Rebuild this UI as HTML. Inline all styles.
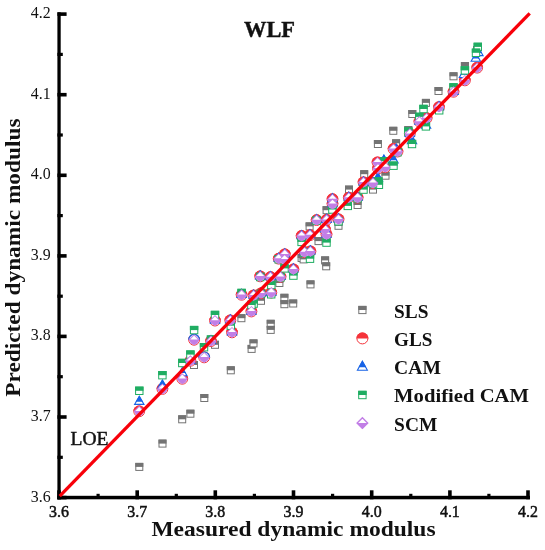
<!DOCTYPE html>
<html lang="en"><head><meta charset="utf-8"><title>WLF</title>
<style>
html,body{margin:0;padding:0;background:#fff}
svg{display:block}
text{font-family:"Liberation Serif",serif;fill:#111}
.yt{font-size:15.9px}
.xt{font-size:15.9px;stroke:#111;stroke-width:.5px}
.lg{font-size:19.6px;font-weight:bold}
.lo{font-size:19.8px;stroke:#111;stroke-width:.45px}
.al{font-size:22px;font-weight:bold}
.tt{font-size:23.4px;font-weight:bold;stroke:#111;stroke-width:.4px}
</style></head><body>
<svg width="545" height="550" viewBox="0 0 545 550">
<rect width="545" height="550" fill="#fff"/>
<g id="sls"><rect x="135.8" y="463.4" width="7" height="7" fill="#fff" stroke="#737373" stroke-width="1"/><rect x="135.3" y="462.9" width="8" height="4" fill="#737373"/><rect x="159" y="440.1" width="7" height="7" fill="#fff" stroke="#737373" stroke-width="1"/><rect x="158.5" y="439.6" width="8" height="4" fill="#737373"/><rect x="178.7" y="415.8" width="7" height="7" fill="#fff" stroke="#737373" stroke-width="1"/><rect x="178.2" y="415.3" width="8" height="4" fill="#737373"/><rect x="186.9" y="410.2" width="7" height="7" fill="#fff" stroke="#737373" stroke-width="1"/><rect x="186.4" y="409.7" width="8" height="4" fill="#737373"/><rect x="200.8" y="394.5" width="7" height="7" fill="#fff" stroke="#737373" stroke-width="1"/><rect x="200.3" y="394" width="8" height="4" fill="#737373"/><rect x="227.3" y="366.8" width="7" height="7" fill="#fff" stroke="#737373" stroke-width="1"/><rect x="226.8" y="366.3" width="8" height="4" fill="#737373"/><rect x="248.1" y="345.4" width="7" height="7" fill="#fff" stroke="#737373" stroke-width="1"/><rect x="247.6" y="344.9" width="8" height="4" fill="#737373"/><rect x="250" y="339.9" width="7" height="7" fill="#fff" stroke="#737373" stroke-width="1"/><rect x="249.5" y="339.4" width="8" height="4" fill="#737373"/><rect x="267.2" y="320.3" width="7" height="7" fill="#fff" stroke="#737373" stroke-width="1"/><rect x="266.7" y="319.8" width="8" height="4" fill="#737373"/><rect x="267.2" y="326.4" width="7" height="7" fill="#fff" stroke="#737373" stroke-width="1"/><rect x="266.7" y="325.9" width="8" height="4" fill="#737373"/><rect x="280.9" y="294.3" width="7" height="7" fill="#fff" stroke="#737373" stroke-width="1"/><rect x="280.4" y="293.8" width="8" height="4" fill="#737373"/><rect x="280.9" y="300.7" width="7" height="7" fill="#fff" stroke="#737373" stroke-width="1"/><rect x="280.4" y="300.2" width="8" height="4" fill="#737373"/><rect x="289.7" y="300" width="7" height="7" fill="#fff" stroke="#737373" stroke-width="1"/><rect x="289.2" y="299.5" width="8" height="4" fill="#737373"/><rect x="307" y="280.9" width="7" height="7" fill="#fff" stroke="#737373" stroke-width="1"/><rect x="306.5" y="280.4" width="8" height="4" fill="#737373"/><rect x="321.6" y="256.9" width="7" height="7" fill="#fff" stroke="#737373" stroke-width="1"/><rect x="321.1" y="256.4" width="8" height="4" fill="#737373"/><rect x="322.7" y="262.8" width="7" height="7" fill="#fff" stroke="#737373" stroke-width="1"/><rect x="322.2" y="262.3" width="8" height="4" fill="#737373"/><rect x="190.5" y="361.5" width="7" height="7" fill="#fff" stroke="#737373" stroke-width="1"/><rect x="190" y="361" width="8" height="4" fill="#737373"/><rect x="211.5" y="341.3" width="7" height="7" fill="#fff" stroke="#737373" stroke-width="1"/><rect x="211" y="340.8" width="8" height="4" fill="#737373"/><rect x="237.9" y="314.7" width="7" height="7" fill="#fff" stroke="#737373" stroke-width="1"/><rect x="237.4" y="314.2" width="8" height="4" fill="#737373"/><rect x="257.5" y="297.3" width="7" height="7" fill="#fff" stroke="#737373" stroke-width="1"/><rect x="257" y="296.8" width="8" height="4" fill="#737373"/><rect x="275.9" y="279.5" width="7" height="7" fill="#fff" stroke="#737373" stroke-width="1"/><rect x="275.4" y="279" width="8" height="4" fill="#737373"/><rect x="298.1" y="254.5" width="7" height="7" fill="#fff" stroke="#737373" stroke-width="1"/><rect x="297.6" y="254" width="8" height="4" fill="#737373"/><rect x="300.1" y="255.9" width="7" height="7" fill="#fff" stroke="#737373" stroke-width="1"/><rect x="299.6" y="255.4" width="8" height="4" fill="#737373"/><rect x="306.1" y="222.9" width="7" height="7" fill="#fff" stroke="#737373" stroke-width="1"/><rect x="305.6" y="222.4" width="8" height="4" fill="#737373"/><rect x="315" y="237.6" width="7" height="7" fill="#fff" stroke="#737373" stroke-width="1"/><rect x="314.5" y="237.1" width="8" height="4" fill="#737373"/><rect x="323.1" y="206.7" width="7" height="7" fill="#fff" stroke="#737373" stroke-width="1"/><rect x="322.6" y="206.2" width="8" height="4" fill="#737373"/><rect x="335" y="222.3" width="7" height="7" fill="#fff" stroke="#737373" stroke-width="1"/><rect x="334.5" y="221.8" width="8" height="4" fill="#737373"/><rect x="345.5" y="186.1" width="7" height="7" fill="#fff" stroke="#737373" stroke-width="1"/><rect x="345" y="185.6" width="8" height="4" fill="#737373"/><rect x="354.1" y="201.5" width="7" height="7" fill="#fff" stroke="#737373" stroke-width="1"/><rect x="353.6" y="201" width="8" height="4" fill="#737373"/><rect x="360.7" y="170.7" width="7" height="7" fill="#fff" stroke="#737373" stroke-width="1"/><rect x="360.2" y="170.2" width="8" height="4" fill="#737373"/><rect x="369.5" y="186.1" width="7" height="7" fill="#fff" stroke="#737373" stroke-width="1"/><rect x="369" y="185.6" width="8" height="4" fill="#737373"/><rect x="374.4" y="140.5" width="7" height="7" fill="#fff" stroke="#737373" stroke-width="1"/><rect x="373.9" y="140" width="8" height="4" fill="#737373"/><rect x="382" y="172.2" width="7" height="7" fill="#fff" stroke="#737373" stroke-width="1"/><rect x="381.5" y="171.7" width="8" height="4" fill="#737373"/><rect x="389.8" y="127.3" width="7" height="7" fill="#fff" stroke="#737373" stroke-width="1"/><rect x="389.3" y="126.8" width="8" height="4" fill="#737373"/><rect x="392.6" y="139.8" width="7" height="7" fill="#fff" stroke="#737373" stroke-width="1"/><rect x="392.1" y="139.3" width="8" height="4" fill="#737373"/><rect x="404.8" y="126.6" width="7" height="7" fill="#fff" stroke="#737373" stroke-width="1"/><rect x="404.3" y="126.1" width="8" height="4" fill="#737373"/><rect x="408.8" y="110.5" width="7" height="7" fill="#fff" stroke="#737373" stroke-width="1"/><rect x="408.3" y="110" width="8" height="4" fill="#737373"/><rect x="422.4" y="99.4" width="7" height="7" fill="#fff" stroke="#737373" stroke-width="1"/><rect x="421.9" y="98.9" width="8" height="4" fill="#737373"/><rect x="435" y="87.5" width="7" height="7" fill="#fff" stroke="#737373" stroke-width="1"/><rect x="434.5" y="87" width="8" height="4" fill="#737373"/><rect x="450" y="72.8" width="7" height="7" fill="#fff" stroke="#737373" stroke-width="1"/><rect x="449.5" y="72.3" width="8" height="4" fill="#737373"/><rect x="461.4" y="62.5" width="7" height="7" fill="#fff" stroke="#737373" stroke-width="1"/><rect x="460.9" y="62" width="8" height="4" fill="#737373"/><rect x="473.5" y="46.5" width="7" height="7" fill="#fff" stroke="#737373" stroke-width="1"/><rect x="473" y="46" width="8" height="4" fill="#737373"/></g>
<g id="gls"><circle cx="139.2" cy="411.3" r="5.4" fill="#fff" stroke="#f5333a" stroke-width="1"/><path d="M133.3 411.3A5.9 5.9 0 0 1 145.1 411.3Z" fill="#f5333a"/><circle cx="162.4" cy="389" r="5.4" fill="#fff" stroke="#f5333a" stroke-width="1"/><path d="M156.5 389A5.9 5.9 0 0 1 168.3 389Z" fill="#f5333a"/><circle cx="182.3" cy="378.8" r="5.4" fill="#fff" stroke="#f5333a" stroke-width="1"/><path d="M176.4 378.8A5.9 5.9 0 0 1 188.2 378.8Z" fill="#f5333a"/><circle cx="190.4" cy="360.8" r="5.4" fill="#fff" stroke="#f5333a" stroke-width="1"/><path d="M184.5 360.8A5.9 5.9 0 0 1 196.3 360.8Z" fill="#f5333a"/><circle cx="194.1" cy="339.8" r="5.4" fill="#fff" stroke="#f5333a" stroke-width="1"/><path d="M188.2 339.8A5.9 5.9 0 0 1 200 339.8Z" fill="#f5333a"/><circle cx="204.2" cy="357.4" r="5.4" fill="#fff" stroke="#f5333a" stroke-width="1"/><path d="M198.3 357.4A5.9 5.9 0 0 1 210.1 357.4Z" fill="#f5333a"/><circle cx="211" cy="341.1" r="5.4" fill="#fff" stroke="#f5333a" stroke-width="1"/><path d="M205.1 341.1A5.9 5.9 0 0 1 216.9 341.1Z" fill="#f5333a"/><circle cx="215" cy="320.6" r="5.4" fill="#fff" stroke="#f5333a" stroke-width="1"/><path d="M209.1 320.6A5.9 5.9 0 0 1 220.9 320.6Z" fill="#f5333a"/><circle cx="230.3" cy="320.4" r="5.4" fill="#fff" stroke="#f5333a" stroke-width="1"/><path d="M224.4 320.4A5.9 5.9 0 0 1 236.2 320.4Z" fill="#f5333a"/><circle cx="232" cy="332.4" r="5.4" fill="#fff" stroke="#f5333a" stroke-width="1"/><path d="M226.1 332.4A5.9 5.9 0 0 1 237.9 332.4Z" fill="#f5333a"/><circle cx="241.6" cy="294.8" r="5.4" fill="#fff" stroke="#f5333a" stroke-width="1"/><path d="M235.7 294.8A5.9 5.9 0 0 1 247.5 294.8Z" fill="#f5333a"/><circle cx="251.4" cy="311.5" r="5.4" fill="#fff" stroke="#f5333a" stroke-width="1"/><path d="M245.5 311.5A5.9 5.9 0 0 1 257.3 311.5Z" fill="#f5333a"/><circle cx="253.6" cy="295.5" r="5.4" fill="#fff" stroke="#f5333a" stroke-width="1"/><path d="M247.7 295.5A5.9 5.9 0 0 1 259.5 295.5Z" fill="#f5333a"/><circle cx="261" cy="293.3" r="5.4" fill="#fff" stroke="#f5333a" stroke-width="1"/><path d="M255.1 293.3A5.9 5.9 0 0 1 266.9 293.3Z" fill="#f5333a"/><circle cx="260.2" cy="276.4" r="5.4" fill="#fff" stroke="#f5333a" stroke-width="1"/><path d="M254.3 276.4A5.9 5.9 0 0 1 266.1 276.4Z" fill="#f5333a"/><circle cx="271.3" cy="292.6" r="5.4" fill="#fff" stroke="#f5333a" stroke-width="1"/><path d="M265.4 292.6A5.9 5.9 0 0 1 277.2 292.6Z" fill="#f5333a"/><circle cx="270.5" cy="277.1" r="5.4" fill="#fff" stroke="#f5333a" stroke-width="1"/><path d="M264.6 277.1A5.9 5.9 0 0 1 276.4 277.1Z" fill="#f5333a"/><circle cx="280.5" cy="276.8" r="5.4" fill="#fff" stroke="#f5333a" stroke-width="1"/><path d="M274.6 276.8A5.9 5.9 0 0 1 286.4 276.8Z" fill="#f5333a"/><circle cx="278.7" cy="258.7" r="5.4" fill="#fff" stroke="#f5333a" stroke-width="1"/><path d="M272.8 258.7A5.9 5.9 0 0 1 284.6 258.7Z" fill="#f5333a"/><circle cx="284.8" cy="254.3" r="5.4" fill="#fff" stroke="#f5333a" stroke-width="1"/><path d="M278.9 254.3A5.9 5.9 0 0 1 290.7 254.3Z" fill="#f5333a"/><circle cx="284.6" cy="259.5" r="5.4" fill="#fff" stroke="#f5333a" stroke-width="1"/><path d="M278.7 259.5A5.9 5.9 0 0 1 290.5 259.5Z" fill="#f5333a"/><circle cx="293.4" cy="269.4" r="5.4" fill="#fff" stroke="#f5333a" stroke-width="1"/><path d="M287.5 269.4A5.9 5.9 0 0 1 299.3 269.4Z" fill="#f5333a"/><circle cx="301.6" cy="236" r="5.4" fill="#fff" stroke="#f5333a" stroke-width="1"/><path d="M295.7 236A5.9 5.9 0 0 1 307.5 236Z" fill="#f5333a"/><circle cx="310" cy="235.2" r="5.4" fill="#fff" stroke="#f5333a" stroke-width="1"/><path d="M304.1 235.2A5.9 5.9 0 0 1 315.9 235.2Z" fill="#f5333a"/><circle cx="304.5" cy="252.1" r="5.4" fill="#fff" stroke="#f5333a" stroke-width="1"/><path d="M298.6 252.1A5.9 5.9 0 0 1 310.4 252.1Z" fill="#f5333a"/><circle cx="310.4" cy="251.4" r="5.4" fill="#fff" stroke="#f5333a" stroke-width="1"/><path d="M304.5 251.4A5.9 5.9 0 0 1 316.3 251.4Z" fill="#f5333a"/><circle cx="316.6" cy="220.1" r="5.4" fill="#fff" stroke="#f5333a" stroke-width="1"/><path d="M310.7 220.1A5.9 5.9 0 0 1 322.5 220.1Z" fill="#f5333a"/><circle cx="326.6" cy="219.8" r="5.4" fill="#fff" stroke="#f5333a" stroke-width="1"/><path d="M320.7 219.8A5.9 5.9 0 0 1 332.5 219.8Z" fill="#f5333a"/><circle cx="326.5" cy="234.5" r="5.4" fill="#fff" stroke="#f5333a" stroke-width="1"/><path d="M320.6 234.5A5.9 5.9 0 0 1 332.4 234.5Z" fill="#f5333a"/><circle cx="325" cy="229.4" r="5.4" fill="#fff" stroke="#f5333a" stroke-width="1"/><path d="M319.1 229.4A5.9 5.9 0 0 1 330.9 229.4Z" fill="#f5333a"/><circle cx="338.5" cy="219.3" r="5.4" fill="#fff" stroke="#f5333a" stroke-width="1"/><path d="M332.6 219.3A5.9 5.9 0 0 1 344.4 219.3Z" fill="#f5333a"/><circle cx="332.5" cy="199.2" r="5.4" fill="#fff" stroke="#f5333a" stroke-width="1"/><path d="M326.6 199.2A5.9 5.9 0 0 1 338.4 199.2Z" fill="#f5333a"/><circle cx="332.5" cy="204" r="5.4" fill="#fff" stroke="#f5333a" stroke-width="1"/><path d="M326.6 204A5.9 5.9 0 0 1 338.4 204Z" fill="#f5333a"/><circle cx="348.8" cy="197.7" r="5.4" fill="#fff" stroke="#f5333a" stroke-width="1"/><path d="M342.9 197.7A5.9 5.9 0 0 1 354.7 197.7Z" fill="#f5333a"/><circle cx="357.6" cy="197.7" r="5.4" fill="#fff" stroke="#f5333a" stroke-width="1"/><path d="M351.7 197.7A5.9 5.9 0 0 1 363.5 197.7Z" fill="#f5333a"/><circle cx="363.5" cy="182.3" r="5.4" fill="#fff" stroke="#f5333a" stroke-width="1"/><path d="M357.6 182.3A5.9 5.9 0 0 1 369.4 182.3Z" fill="#f5333a"/><circle cx="373" cy="183" r="5.4" fill="#fff" stroke="#f5333a" stroke-width="1"/><path d="M367.1 183A5.9 5.9 0 0 1 378.9 183Z" fill="#f5333a"/><circle cx="377.5" cy="162.4" r="5.4" fill="#fff" stroke="#f5333a" stroke-width="1"/><path d="M371.6 162.4A5.9 5.9 0 0 1 383.4 162.4Z" fill="#f5333a"/><circle cx="378" cy="168.5" r="5.4" fill="#fff" stroke="#f5333a" stroke-width="1"/><path d="M372.1 168.5A5.9 5.9 0 0 1 383.9 168.5Z" fill="#f5333a"/><circle cx="385.2" cy="167.2" r="5.4" fill="#fff" stroke="#f5333a" stroke-width="1"/><path d="M379.3 167.2A5.9 5.9 0 0 1 391.1 167.2Z" fill="#f5333a"/><circle cx="393.5" cy="149" r="5.4" fill="#fff" stroke="#f5333a" stroke-width="1"/><path d="M387.6 149A5.9 5.9 0 0 1 399.4 149Z" fill="#f5333a"/><circle cx="397.5" cy="151.6" r="5.4" fill="#fff" stroke="#f5333a" stroke-width="1"/><path d="M391.6 151.6A5.9 5.9 0 0 1 403.4 151.6Z" fill="#f5333a"/><circle cx="409.8" cy="133.8" r="5.4" fill="#fff" stroke="#f5333a" stroke-width="1"/><path d="M403.9 133.8A5.9 5.9 0 0 1 415.7 133.8Z" fill="#f5333a"/><circle cx="419.4" cy="121.6" r="5.4" fill="#fff" stroke="#f5333a" stroke-width="1"/><path d="M413.5 121.6A5.9 5.9 0 0 1 425.3 121.6Z" fill="#f5333a"/><circle cx="426.6" cy="118.2" r="5.4" fill="#fff" stroke="#f5333a" stroke-width="1"/><path d="M420.7 118.2A5.9 5.9 0 0 1 432.5 118.2Z" fill="#f5333a"/><circle cx="439" cy="107.1" r="5.4" fill="#fff" stroke="#f5333a" stroke-width="1"/><path d="M433.1 107.1A5.9 5.9 0 0 1 444.9 107.1Z" fill="#f5333a"/><circle cx="453.5" cy="91.8" r="5.4" fill="#fff" stroke="#f5333a" stroke-width="1"/><path d="M447.6 91.8A5.9 5.9 0 0 1 459.4 91.8Z" fill="#f5333a"/><circle cx="464.9" cy="80.4" r="5.4" fill="#fff" stroke="#f5333a" stroke-width="1"/><path d="M459 80.4A5.9 5.9 0 0 1 470.8 80.4Z" fill="#f5333a"/><circle cx="477.2" cy="67.7" r="5.4" fill="#fff" stroke="#f5333a" stroke-width="1"/><path d="M471.3 67.7A5.9 5.9 0 0 1 483.1 67.7Z" fill="#f5333a"/></g>
<g id="cam"><path d="M139.3 396.3L144 404.4H134.6Z" fill="#fff" stroke="#1763e6" stroke-width="1.1"/><path d="M139.3 395.5L143 401.7H135.6Z" fill="#1763e6"/><path d="M162.4 380.1L167.1 388.2H157.7Z" fill="#fff" stroke="#1763e6" stroke-width="1.1"/><path d="M162.4 379.3L166.1 385.5H158.7Z" fill="#1763e6"/><path d="M182.3 367.7L187 375.8H177.6Z" fill="#fff" stroke="#1763e6" stroke-width="1.1"/><path d="M182.3 366.9L186 373.1H178.6Z" fill="#1763e6"/><path d="M383.9 155.1L388.6 163.2H379.2Z" fill="#fff" stroke="#1763e6" stroke-width="1.1"/><path d="M383.9 154.3L387.6 160.5H380.2Z" fill="#1763e6"/><path d="M393.5 154.9L398.2 163H388.8Z" fill="#fff" stroke="#1763e6" stroke-width="1.1"/><path d="M393.5 154.1L397.2 160.3H389.8Z" fill="#1763e6"/><path d="M396.2 144.1L400.9 152.2H391.5Z" fill="#fff" stroke="#1763e6" stroke-width="1.1"/><path d="M396.2 143.3L399.9 149.5H392.5Z" fill="#1763e6"/><path d="M377.9 172.8L382.6 180.9H373.2Z" fill="#fff" stroke="#1763e6" stroke-width="1.1"/><path d="M377.9 172L381.6 178.2H374.2Z" fill="#1763e6"/><path d="M412 135.7L416.7 143.8H407.3Z" fill="#fff" stroke="#1763e6" stroke-width="1.1"/><path d="M412 134.9L415.7 141.1H408.3Z" fill="#1763e6"/><path d="M426 120.1L430.7 128.2H421.3Z" fill="#fff" stroke="#1763e6" stroke-width="1.1"/><path d="M426 119.3L429.7 125.5H422.3Z" fill="#1763e6"/><path d="M464 69.4L468.7 77.5H459.3Z" fill="#fff" stroke="#1763e6" stroke-width="1.1"/><path d="M464 68.6L467.7 74.8H460.3Z" fill="#1763e6"/><path d="M478.4 47.5L483.1 55.6H473.7Z" fill="#fff" stroke="#1763e6" stroke-width="1.1"/><path d="M478.4 46.7L482.1 52.9H474.7Z" fill="#1763e6"/><path d="M475.8 53.1L480.5 61.2H471.1Z" fill="#fff" stroke="#1763e6" stroke-width="1.1"/><path d="M475.8 52.3L479.5 58.5H472.1Z" fill="#1763e6"/><path d="M190.4 355.3L195.1 363.4H185.7Z" fill="#fff" stroke="#1763e6" stroke-width="1.1"/><path d="M190.4 354.5L194.1 360.7H186.7Z" fill="#1763e6"/><path d="M211 335.6L215.7 343.7H206.3Z" fill="#fff" stroke="#1763e6" stroke-width="1.1"/><path d="M211 334.8L214.7 341H207.3Z" fill="#1763e6"/><path d="M215 315.1L219.7 323.2H210.3Z" fill="#fff" stroke="#1763e6" stroke-width="1.1"/><path d="M215 314.3L218.7 320.5H211.3Z" fill="#1763e6"/><path d="M230.3 314.9L235 323H225.6Z" fill="#fff" stroke="#1763e6" stroke-width="1.1"/><path d="M230.3 314.1L234 320.3H226.6Z" fill="#1763e6"/><path d="M232 326.9L236.7 335H227.3Z" fill="#fff" stroke="#1763e6" stroke-width="1.1"/><path d="M232 326.1L235.7 332.3H228.3Z" fill="#1763e6"/><path d="M241.6 289.3L246.3 297.4H236.9Z" fill="#fff" stroke="#1763e6" stroke-width="1.1"/><path d="M241.6 288.5L245.3 294.7H237.9Z" fill="#1763e6"/><path d="M251.4 306L256.1 314.1H246.7Z" fill="#fff" stroke="#1763e6" stroke-width="1.1"/><path d="M251.4 305.2L255.1 311.4H247.7Z" fill="#1763e6"/><path d="M253.6 290L258.3 298.1H248.9Z" fill="#fff" stroke="#1763e6" stroke-width="1.1"/><path d="M253.6 289.2L257.3 295.4H249.9Z" fill="#1763e6"/><path d="M261 287.8L265.7 295.9H256.3Z" fill="#fff" stroke="#1763e6" stroke-width="1.1"/><path d="M261 287L264.7 293.2H257.3Z" fill="#1763e6"/><path d="M260.2 270.9L264.9 279H255.5Z" fill="#fff" stroke="#1763e6" stroke-width="1.1"/><path d="M260.2 270.1L263.9 276.3H256.5Z" fill="#1763e6"/><path d="M271.3 287.1L276 295.2H266.6Z" fill="#fff" stroke="#1763e6" stroke-width="1.1"/><path d="M271.3 286.3L275 292.5H267.6Z" fill="#1763e6"/><path d="M270.5 271.6L275.2 279.7H265.8Z" fill="#fff" stroke="#1763e6" stroke-width="1.1"/><path d="M270.5 270.8L274.2 277H266.8Z" fill="#1763e6"/><path d="M280.5 271.3L285.2 279.4H275.8Z" fill="#fff" stroke="#1763e6" stroke-width="1.1"/><path d="M280.5 270.5L284.2 276.7H276.8Z" fill="#1763e6"/><path d="M278.7 253.2L283.4 261.3H274Z" fill="#fff" stroke="#1763e6" stroke-width="1.1"/><path d="M278.7 252.4L282.4 258.6H275Z" fill="#1763e6"/><path d="M284.8 248.8L289.5 256.9H280.1Z" fill="#fff" stroke="#1763e6" stroke-width="1.1"/><path d="M284.8 248L288.5 254.2H281.1Z" fill="#1763e6"/><path d="M284.6 254L289.3 262.1H279.9Z" fill="#fff" stroke="#1763e6" stroke-width="1.1"/><path d="M284.6 253.2L288.3 259.4H280.9Z" fill="#1763e6"/><path d="M293.4 263.9L298.1 272H288.7Z" fill="#fff" stroke="#1763e6" stroke-width="1.1"/><path d="M293.4 263.1L297.1 269.3H289.7Z" fill="#1763e6"/><path d="M301.6 230.5L306.3 238.6H296.9Z" fill="#fff" stroke="#1763e6" stroke-width="1.1"/><path d="M301.6 229.7L305.3 235.9H297.9Z" fill="#1763e6"/><path d="M310 229.7L314.7 237.8H305.3Z" fill="#fff" stroke="#1763e6" stroke-width="1.1"/><path d="M310 228.9L313.7 235.1H306.3Z" fill="#1763e6"/><path d="M304.5 246.6L309.2 254.7H299.8Z" fill="#fff" stroke="#1763e6" stroke-width="1.1"/><path d="M304.5 245.8L308.2 252H300.8Z" fill="#1763e6"/><path d="M310.4 245.9L315.1 254H305.7Z" fill="#fff" stroke="#1763e6" stroke-width="1.1"/><path d="M310.4 245.1L314.1 251.3H306.7Z" fill="#1763e6"/><path d="M316.6 214.6L321.3 222.7H311.9Z" fill="#fff" stroke="#1763e6" stroke-width="1.1"/><path d="M316.6 213.8L320.3 220H312.9Z" fill="#1763e6"/><path d="M326.6 214.3L331.3 222.4H321.9Z" fill="#fff" stroke="#1763e6" stroke-width="1.1"/><path d="M326.6 213.5L330.3 219.7H322.9Z" fill="#1763e6"/><path d="M326.5 229L331.2 237.1H321.8Z" fill="#fff" stroke="#1763e6" stroke-width="1.1"/><path d="M326.5 228.2L330.2 234.4H322.8Z" fill="#1763e6"/><path d="M325 223.9L329.7 232H320.3Z" fill="#fff" stroke="#1763e6" stroke-width="1.1"/><path d="M325 223.1L328.7 229.3H321.3Z" fill="#1763e6"/><path d="M338.5 213.8L343.2 221.9H333.8Z" fill="#fff" stroke="#1763e6" stroke-width="1.1"/><path d="M338.5 213L342.2 219.2H334.8Z" fill="#1763e6"/><path d="M332.5 193.7L337.2 201.8H327.8Z" fill="#fff" stroke="#1763e6" stroke-width="1.1"/><path d="M332.5 192.9L336.2 199.1H328.8Z" fill="#1763e6"/><path d="M332.5 198.5L337.2 206.6H327.8Z" fill="#fff" stroke="#1763e6" stroke-width="1.1"/><path d="M332.5 197.7L336.2 203.9H328.8Z" fill="#1763e6"/><path d="M348.8 192.2L353.5 200.3H344.1Z" fill="#fff" stroke="#1763e6" stroke-width="1.1"/><path d="M348.8 191.4L352.5 197.6H345.1Z" fill="#1763e6"/><path d="M357.6 192.2L362.3 200.3H352.9Z" fill="#fff" stroke="#1763e6" stroke-width="1.1"/><path d="M357.6 191.4L361.3 197.6H353.9Z" fill="#1763e6"/><path d="M363.5 176.8L368.2 184.9H358.8Z" fill="#fff" stroke="#1763e6" stroke-width="1.1"/><path d="M363.5 176L367.2 182.2H359.8Z" fill="#1763e6"/><path d="M373 177.5L377.7 185.6H368.3Z" fill="#fff" stroke="#1763e6" stroke-width="1.1"/><path d="M373 176.7L376.7 182.9H369.3Z" fill="#1763e6"/><path d="M409.8 128.3L414.5 136.4H405.1Z" fill="#fff" stroke="#1763e6" stroke-width="1.1"/><path d="M409.8 127.5L413.5 133.7H406.1Z" fill="#1763e6"/><path d="M419.4 116.1L424.1 124.2H414.7Z" fill="#fff" stroke="#1763e6" stroke-width="1.1"/><path d="M419.4 115.3L423.1 121.5H415.7Z" fill="#1763e6"/><path d="M439 101.6L443.7 109.7H434.3Z" fill="#fff" stroke="#1763e6" stroke-width="1.1"/><path d="M439 100.8L442.7 107H435.3Z" fill="#1763e6"/><path d="M453.5 86.3L458.2 94.4H448.8Z" fill="#fff" stroke="#1763e6" stroke-width="1.1"/><path d="M453.5 85.5L457.2 91.7H449.8Z" fill="#1763e6"/></g>
<g id="cam2"><path d="M188.7 339.8A5.4 5.4 0 0 1 199.5 339.8" fill="#ecdaf8" stroke="#1763e6" stroke-width="1.2"/><path d="M198.8 357.4A5.4 5.4 0 0 1 209.6 357.4" fill="#ecdaf8" stroke="#1763e6" stroke-width="1.2"/></g>
<g id="mcam"><rect x="135.6" y="387.1" width="7.4" height="7.4" fill="#fff" stroke="#1fad62" stroke-width="1"/><rect x="135.1" y="386.6" width="8.4" height="4.2" fill="#1fad62"/><rect x="158.7" y="371.5" width="7.4" height="7.4" fill="#fff" stroke="#1fad62" stroke-width="1"/><rect x="158.2" y="371" width="8.4" height="4.2" fill="#1fad62"/><rect x="178.6" y="359.3" width="7.4" height="7.4" fill="#fff" stroke="#1fad62" stroke-width="1"/><rect x="178.1" y="358.8" width="8.4" height="4.2" fill="#1fad62"/><rect x="186.7" y="350.9" width="7.4" height="7.4" fill="#fff" stroke="#1fad62" stroke-width="1"/><rect x="186.2" y="350.4" width="8.4" height="4.2" fill="#1fad62"/><rect x="190.4" y="326.4" width="7.4" height="7.4" fill="#fff" stroke="#1fad62" stroke-width="1"/><rect x="189.9" y="325.9" width="8.4" height="4.2" fill="#1fad62"/><rect x="200.3" y="343.5" width="7.4" height="7.4" fill="#fff" stroke="#1fad62" stroke-width="1"/><rect x="199.8" y="343" width="8.4" height="4.2" fill="#1fad62"/><rect x="207.3" y="335.9" width="7.4" height="7.4" fill="#fff" stroke="#1fad62" stroke-width="1"/><rect x="206.8" y="335.4" width="8.4" height="4.2" fill="#1fad62"/><rect x="211.3" y="311.3" width="7.4" height="7.4" fill="#fff" stroke="#1fad62" stroke-width="1"/><rect x="210.8" y="310.8" width="8.4" height="4.2" fill="#1fad62"/><rect x="227.1" y="322" width="7.4" height="7.4" fill="#fff" stroke="#1fad62" stroke-width="1"/><rect x="226.6" y="321.5" width="8.4" height="4.2" fill="#1fad62"/><rect x="249.9" y="299.9" width="7.4" height="7.4" fill="#fff" stroke="#1fad62" stroke-width="1"/><rect x="249.4" y="299.4" width="8.4" height="4.2" fill="#1fad62"/><rect x="247.7" y="301.3" width="7.4" height="7.4" fill="#fff" stroke="#1fad62" stroke-width="1"/><rect x="247.2" y="300.8" width="8.4" height="4.2" fill="#1fad62"/><rect x="237.9" y="289.3" width="7.4" height="7.4" fill="#fff" stroke="#1fad62" stroke-width="1"/><rect x="237.4" y="288.8" width="8.4" height="4.2" fill="#1fad62"/><rect x="267.6" y="281.3" width="7.4" height="7.4" fill="#fff" stroke="#1fad62" stroke-width="1"/><rect x="267.1" y="280.8" width="8.4" height="4.2" fill="#1fad62"/><rect x="267.5" y="290.6" width="7.4" height="7.4" fill="#fff" stroke="#1fad62" stroke-width="1"/><rect x="267" y="290.1" width="8.4" height="4.2" fill="#1fad62"/><rect x="280.8" y="264.7" width="7.4" height="7.4" fill="#fff" stroke="#1fad62" stroke-width="1"/><rect x="280.3" y="264.2" width="8.4" height="4.2" fill="#1fad62"/><rect x="289.7" y="271.9" width="7.4" height="7.4" fill="#fff" stroke="#1fad62" stroke-width="1"/><rect x="289.2" y="271.4" width="8.4" height="4.2" fill="#1fad62"/><rect x="297.9" y="238.2" width="7.4" height="7.4" fill="#fff" stroke="#1fad62" stroke-width="1"/><rect x="297.4" y="237.7" width="8.4" height="4.2" fill="#1fad62"/><rect x="306.3" y="255" width="7.4" height="7.4" fill="#fff" stroke="#1fad62" stroke-width="1"/><rect x="305.8" y="254.5" width="8.4" height="4.2" fill="#1fad62"/><rect x="322.8" y="238.9" width="7.4" height="7.4" fill="#fff" stroke="#1fad62" stroke-width="1"/><rect x="322.3" y="238.4" width="8.4" height="4.2" fill="#1fad62"/><rect x="334.8" y="217.6" width="7.4" height="7.4" fill="#fff" stroke="#1fad62" stroke-width="1"/><rect x="334.3" y="217.1" width="8.4" height="4.2" fill="#1fad62"/><rect x="328.7" y="205.8" width="7.4" height="7.4" fill="#fff" stroke="#1fad62" stroke-width="1"/><rect x="328.2" y="205.3" width="8.4" height="4.2" fill="#1fad62"/><rect x="344.1" y="202.2" width="7.4" height="7.4" fill="#fff" stroke="#1fad62" stroke-width="1"/><rect x="343.6" y="201.7" width="8.4" height="4.2" fill="#1fad62"/><rect x="359.8" y="185.9" width="7.4" height="7.4" fill="#fff" stroke="#1fad62" stroke-width="1"/><rect x="359.3" y="185.4" width="8.4" height="4.2" fill="#1fad62"/><rect x="374.6" y="177.8" width="7.4" height="7.4" fill="#fff" stroke="#1fad62" stroke-width="1"/><rect x="374.1" y="177.3" width="8.4" height="4.2" fill="#1fad62"/><rect x="375.2" y="181.1" width="7.4" height="7.4" fill="#fff" stroke="#1fad62" stroke-width="1"/><rect x="374.7" y="180.6" width="8.4" height="4.2" fill="#1fad62"/><rect x="389.8" y="162" width="7.4" height="7.4" fill="#fff" stroke="#1fad62" stroke-width="1"/><rect x="389.3" y="161.5" width="8.4" height="4.2" fill="#1fad62"/><rect x="380.6" y="157.5" width="7.4" height="7.4" fill="#fff" stroke="#1fad62" stroke-width="1"/><rect x="380.1" y="157" width="8.4" height="4.2" fill="#1fad62"/><rect x="404.6" y="127.9" width="7.4" height="7.4" fill="#fff" stroke="#1fad62" stroke-width="1"/><rect x="404.1" y="127.4" width="8.4" height="4.2" fill="#1fad62"/><rect x="408.3" y="140.3" width="7.4" height="7.4" fill="#fff" stroke="#1fad62" stroke-width="1"/><rect x="407.8" y="139.8" width="8.4" height="4.2" fill="#1fad62"/><rect x="415.6" y="113.2" width="7.4" height="7.4" fill="#fff" stroke="#1fad62" stroke-width="1"/><rect x="415.1" y="112.7" width="8.4" height="4.2" fill="#1fad62"/><rect x="419.8" y="105.3" width="7.4" height="7.4" fill="#fff" stroke="#1fad62" stroke-width="1"/><rect x="419.3" y="104.8" width="8.4" height="4.2" fill="#1fad62"/><rect x="422.2" y="122.7" width="7.4" height="7.4" fill="#fff" stroke="#1fad62" stroke-width="1"/><rect x="421.7" y="122.2" width="8.4" height="4.2" fill="#1fad62"/><rect x="435.5" y="106.6" width="7.4" height="7.4" fill="#fff" stroke="#1fad62" stroke-width="1"/><rect x="435" y="106.1" width="8.4" height="4.2" fill="#1fad62"/><rect x="449.8" y="83.7" width="7.4" height="7.4" fill="#fff" stroke="#1fad62" stroke-width="1"/><rect x="449.3" y="83.2" width="8.4" height="4.2" fill="#1fad62"/><rect x="461.2" y="66.7" width="7.4" height="7.4" fill="#fff" stroke="#1fad62" stroke-width="1"/><rect x="460.7" y="66.2" width="8.4" height="4.2" fill="#1fad62"/><rect x="474.1" y="43.2" width="7.4" height="7.4" fill="#fff" stroke="#1fad62" stroke-width="1"/><rect x="473.6" y="42.7" width="8.4" height="4.2" fill="#1fad62"/><rect x="472.3" y="49.1" width="7.4" height="7.4" fill="#fff" stroke="#1fad62" stroke-width="1"/><rect x="471.8" y="48.6" width="8.4" height="4.2" fill="#1fad62"/><rect x="257.3" y="290.2" width="7.4" height="7.4" fill="#fff" stroke="#1fad62" stroke-width="1"/><rect x="256.8" y="289.7" width="8.4" height="4.2" fill="#1fad62"/><rect x="256.5" y="273.3" width="7.4" height="7.4" fill="#fff" stroke="#1fad62" stroke-width="1"/><rect x="256" y="272.8" width="8.4" height="4.2" fill="#1fad62"/><rect x="276.8" y="273.7" width="7.4" height="7.4" fill="#fff" stroke="#1fad62" stroke-width="1"/><rect x="276.3" y="273.2" width="8.4" height="4.2" fill="#1fad62"/><rect x="275" y="255.6" width="7.4" height="7.4" fill="#fff" stroke="#1fad62" stroke-width="1"/><rect x="274.5" y="255.1" width="8.4" height="4.2" fill="#1fad62"/><rect x="300.8" y="249" width="7.4" height="7.4" fill="#fff" stroke="#1fad62" stroke-width="1"/><rect x="300.3" y="248.5" width="8.4" height="4.2" fill="#1fad62"/><rect x="312.9" y="217" width="7.4" height="7.4" fill="#fff" stroke="#1fad62" stroke-width="1"/><rect x="312.4" y="216.5" width="8.4" height="4.2" fill="#1fad62"/><rect x="353.9" y="194.6" width="7.4" height="7.4" fill="#fff" stroke="#1fad62" stroke-width="1"/><rect x="353.4" y="194.1" width="8.4" height="4.2" fill="#1fad62"/><rect x="369.3" y="179.9" width="7.4" height="7.4" fill="#fff" stroke="#1fad62" stroke-width="1"/><rect x="368.8" y="179.4" width="8.4" height="4.2" fill="#1fad62"/><rect x="393.8" y="148.5" width="7.4" height="7.4" fill="#fff" stroke="#1fad62" stroke-width="1"/><rect x="393.3" y="148" width="8.4" height="4.2" fill="#1fad62"/></g>
<g id="scm"><path d="M134.4 411.3A4.8 4.8 0 0 0 144 411.3Z" fill="#cb92ea"/><path d="M139.2 405.8L144.7 411.3L139.2 416.8L133.7 411.3Z" fill="#c27ee6"/><path d="M135.3 410.9H143L139.2 406.9Z" fill="#fff"/><path d="M157.6 389A4.8 4.8 0 0 0 167.2 389Z" fill="#cb92ea"/><path d="M162.4 383.5L167.9 389L162.4 394.5L156.9 389Z" fill="#c27ee6"/><path d="M158.6 388.6H166.2L162.4 384.6Z" fill="#fff"/><path d="M177.5 378.8A4.8 4.8 0 0 0 187.1 378.8Z" fill="#cb92ea"/><path d="M182.3 373.3L187.8 378.8L182.3 384.3L176.8 378.8Z" fill="#c27ee6"/><path d="M178.5 378.4H186.2L182.3 374.4Z" fill="#fff"/><path d="M185.6 360.8A4.8 4.8 0 0 0 195.2 360.8Z" fill="#cb92ea"/><path d="M190.4 355.3L195.9 360.8L190.4 366.3L184.9 360.8Z" fill="#c27ee6"/><path d="M186.6 360.4H194.2L190.4 356.4Z" fill="#fff"/><path d="M189.3 339.8A4.8 4.8 0 0 0 198.9 339.8Z" fill="#cb92ea"/><path d="M194.1 334.3L199.6 339.8L194.1 345.3L188.6 339.8Z" fill="#c27ee6"/><path d="M190.2 339.4H197.9L194.1 335.4Z" fill="#fff"/><path d="M199.4 357.4A4.8 4.8 0 0 0 209 357.4Z" fill="#cb92ea"/><path d="M204.2 351.9L209.7 357.4L204.2 362.9L198.7 357.4Z" fill="#c27ee6"/><path d="M200.3 357H208L204.2 353Z" fill="#fff"/><path d="M206.2 341.1A4.8 4.8 0 0 0 215.8 341.1Z" fill="#cb92ea"/><path d="M211 335.6L216.5 341.1L211 346.6L205.5 341.1Z" fill="#c27ee6"/><path d="M207.2 340.7H214.8L211 336.8Z" fill="#fff"/><path d="M210.2 320.6A4.8 4.8 0 0 0 219.8 320.6Z" fill="#cb92ea"/><path d="M215 315.1L220.5 320.6L215 326.1L209.5 320.6Z" fill="#c27ee6"/><path d="M211.2 320.2H218.8L215 316.2Z" fill="#fff"/><path d="M225.5 320.4A4.8 4.8 0 0 0 235.1 320.4Z" fill="#cb92ea"/><path d="M230.3 314.9L235.8 320.4L230.3 325.9L224.8 320.4Z" fill="#c27ee6"/><path d="M226.5 320H234.2L230.3 316Z" fill="#fff"/><path d="M227.2 332.4A4.8 4.8 0 0 0 236.8 332.4Z" fill="#cb92ea"/><path d="M232 326.9L237.5 332.4L232 337.9L226.5 332.4Z" fill="#c27ee6"/><path d="M228.2 332H235.8L232 328Z" fill="#fff"/><path d="M236.8 294.8A4.8 4.8 0 0 0 246.4 294.8Z" fill="#cb92ea"/><path d="M241.6 289.3L247.1 294.8L241.6 300.3L236.1 294.8Z" fill="#c27ee6"/><path d="M237.8 294.4H245.4L241.6 290.4Z" fill="#fff"/><path d="M246.6 311.5A4.8 4.8 0 0 0 256.2 311.5Z" fill="#cb92ea"/><path d="M251.4 306L256.9 311.5L251.4 317L245.9 311.5Z" fill="#c27ee6"/><path d="M247.6 311.1H255.2L251.4 307.1Z" fill="#fff"/><path d="M248.8 295.5A4.8 4.8 0 0 0 258.4 295.5Z" fill="#cb92ea"/><path d="M253.6 290L259.1 295.5L253.6 301L248.1 295.5Z" fill="#c27ee6"/><path d="M249.8 295.1H257.4L253.6 291.1Z" fill="#fff"/><path d="M256.2 293.3A4.8 4.8 0 0 0 265.8 293.3Z" fill="#cb92ea"/><path d="M261 287.8L266.5 293.3L261 298.8L255.5 293.3Z" fill="#c27ee6"/><path d="M257.1 292.9H264.9L261 288.9Z" fill="#fff"/><path d="M255.4 276.4A4.8 4.8 0 0 0 265 276.4Z" fill="#cb92ea"/><path d="M260.2 270.9L265.7 276.4L260.2 281.9L254.7 276.4Z" fill="#c27ee6"/><path d="M256.3 276H264.1L260.2 272Z" fill="#fff"/><path d="M266.5 292.6A4.8 4.8 0 0 0 276.1 292.6Z" fill="#cb92ea"/><path d="M271.3 287.1L276.8 292.6L271.3 298.1L265.8 292.6Z" fill="#c27ee6"/><path d="M267.4 292.2H275.2L271.3 288.2Z" fill="#fff"/><path d="M265.7 277.1A4.8 4.8 0 0 0 275.3 277.1Z" fill="#cb92ea"/><path d="M270.5 271.6L276 277.1L270.5 282.6L265 277.1Z" fill="#c27ee6"/><path d="M266.6 276.7H274.4L270.5 272.8Z" fill="#fff"/><path d="M275.7 276.8A4.8 4.8 0 0 0 285.3 276.8Z" fill="#cb92ea"/><path d="M280.5 271.3L286 276.8L280.5 282.3L275 276.8Z" fill="#c27ee6"/><path d="M276.6 276.4H284.4L280.5 272.4Z" fill="#fff"/><path d="M273.9 258.7A4.8 4.8 0 0 0 283.5 258.7Z" fill="#cb92ea"/><path d="M278.7 253.2L284.2 258.7L278.7 264.2L273.2 258.7Z" fill="#c27ee6"/><path d="M274.8 258.3H282.6L278.7 254.3Z" fill="#fff"/><path d="M280 254.3A4.8 4.8 0 0 0 289.6 254.3Z" fill="#cb92ea"/><path d="M284.8 248.8L290.3 254.3L284.8 259.8L279.3 254.3Z" fill="#c27ee6"/><path d="M280.9 253.9H288.7L284.8 250Z" fill="#fff"/><path d="M279.8 259.5A4.8 4.8 0 0 0 289.4 259.5Z" fill="#cb92ea"/><path d="M284.6 254L290.1 259.5L284.6 265L279.1 259.5Z" fill="#c27ee6"/><path d="M280.8 259.1H288.5L284.6 255.2Z" fill="#fff"/><path d="M288.6 269.4A4.8 4.8 0 0 0 298.2 269.4Z" fill="#cb92ea"/><path d="M293.4 263.9L298.9 269.4L293.4 274.9L287.9 269.4Z" fill="#c27ee6"/><path d="M289.5 269H297.2L293.4 265Z" fill="#fff"/><path d="M296.8 236A4.8 4.8 0 0 0 306.4 236Z" fill="#cb92ea"/><path d="M301.6 230.5L307.1 236L301.6 241.5L296.1 236Z" fill="#c27ee6"/><path d="M297.8 235.6H305.5L301.6 231.7Z" fill="#fff"/><path d="M305.2 235.2A4.8 4.8 0 0 0 314.8 235.2Z" fill="#cb92ea"/><path d="M310 229.7L315.5 235.2L310 240.7L304.5 235.2Z" fill="#c27ee6"/><path d="M306.1 234.8H313.9L310 230.8Z" fill="#fff"/><path d="M299.7 252.1A4.8 4.8 0 0 0 309.3 252.1Z" fill="#cb92ea"/><path d="M304.5 246.6L310 252.1L304.5 257.6L299 252.1Z" fill="#c27ee6"/><path d="M300.6 251.7H308.4L304.5 247.8Z" fill="#fff"/><path d="M305.6 251.4A4.8 4.8 0 0 0 315.2 251.4Z" fill="#cb92ea"/><path d="M310.4 245.9L315.9 251.4L310.4 256.9L304.9 251.4Z" fill="#c27ee6"/><path d="M306.5 251H314.2L310.4 247.1Z" fill="#fff"/><path d="M311.8 220.1A4.8 4.8 0 0 0 321.4 220.1Z" fill="#cb92ea"/><path d="M316.6 214.6L322.1 220.1L316.6 225.6L311.1 220.1Z" fill="#c27ee6"/><path d="M312.8 219.7H320.5L316.6 215.8Z" fill="#fff"/><path d="M321.8 219.8A4.8 4.8 0 0 0 331.4 219.8Z" fill="#cb92ea"/><path d="M326.6 214.3L332.1 219.8L326.6 225.3L321.1 219.8Z" fill="#c27ee6"/><path d="M322.8 219.4H330.5L326.6 215.5Z" fill="#fff"/><path d="M321.7 234.5A4.8 4.8 0 0 0 331.3 234.5Z" fill="#cb92ea"/><path d="M326.5 229L332 234.5L326.5 240L321 234.5Z" fill="#c27ee6"/><path d="M322.6 234.1H330.4L326.5 230.2Z" fill="#fff"/><path d="M320.2 229.4A4.8 4.8 0 0 0 329.8 229.4Z" fill="#cb92ea"/><path d="M325 223.9L330.5 229.4L325 234.9L319.5 229.4Z" fill="#c27ee6"/><path d="M321.1 229H328.9L325 225.1Z" fill="#fff"/><path d="M333.7 219.3A4.8 4.8 0 0 0 343.3 219.3Z" fill="#cb92ea"/><path d="M338.5 213.8L344 219.3L338.5 224.8L333 219.3Z" fill="#c27ee6"/><path d="M334.6 218.9H342.4L338.5 215Z" fill="#fff"/><path d="M327.7 199.2A4.8 4.8 0 0 0 337.3 199.2Z" fill="#cb92ea"/><path d="M332.5 193.7L338 199.2L332.5 204.7L327 199.2Z" fill="#c27ee6"/><path d="M328.6 198.8H336.4L332.5 194.8Z" fill="#fff"/><path d="M327.7 204A4.8 4.8 0 0 0 337.3 204Z" fill="#cb92ea"/><path d="M332.5 198.5L338 204L332.5 209.5L327 204Z" fill="#c27ee6"/><path d="M328.6 203.6H336.4L332.5 199.7Z" fill="#fff"/><path d="M344 197.7A4.8 4.8 0 0 0 353.6 197.7Z" fill="#cb92ea"/><path d="M348.8 192.2L354.3 197.7L348.8 203.2L343.3 197.7Z" fill="#c27ee6"/><path d="M344.9 197.3H352.7L348.8 193.3Z" fill="#fff"/><path d="M352.8 197.7A4.8 4.8 0 0 0 362.4 197.7Z" fill="#cb92ea"/><path d="M357.6 192.2L363.1 197.7L357.6 203.2L352.1 197.7Z" fill="#c27ee6"/><path d="M353.8 197.3H361.5L357.6 193.3Z" fill="#fff"/><path d="M358.7 182.3A4.8 4.8 0 0 0 368.3 182.3Z" fill="#cb92ea"/><path d="M363.5 176.8L369 182.3L363.5 187.8L358 182.3Z" fill="#c27ee6"/><path d="M359.6 181.9H367.4L363.5 178Z" fill="#fff"/><path d="M368.2 183A4.8 4.8 0 0 0 377.8 183Z" fill="#cb92ea"/><path d="M373 177.5L378.5 183L373 188.5L367.5 183Z" fill="#c27ee6"/><path d="M369.1 182.6H376.9L373 178.7Z" fill="#fff"/><path d="M372.7 162.4A4.8 4.8 0 0 0 382.3 162.4Z" fill="#cb92ea"/><path d="M377.5 156.9L383 162.4L377.5 167.9L372 162.4Z" fill="#c27ee6"/><path d="M373.6 162H381.4L377.5 158.1Z" fill="#fff"/><path d="M373.2 168.5A4.8 4.8 0 0 0 382.8 168.5Z" fill="#cb92ea"/><path d="M378 163L383.5 168.5L378 174L372.5 168.5Z" fill="#c27ee6"/><path d="M374.1 168.1H381.9L378 164.2Z" fill="#fff"/><path d="M380.4 167.2A4.8 4.8 0 0 0 390 167.2Z" fill="#cb92ea"/><path d="M385.2 161.7L390.7 167.2L385.2 172.7L379.7 167.2Z" fill="#c27ee6"/><path d="M381.3 166.8H389.1L385.2 162.8Z" fill="#fff"/><path d="M388.7 149A4.8 4.8 0 0 0 398.3 149Z" fill="#cb92ea"/><path d="M393.5 143.5L399 149L393.5 154.5L388 149Z" fill="#c27ee6"/><path d="M389.6 148.6H397.4L393.5 144.7Z" fill="#fff"/><path d="M392.7 151.6A4.8 4.8 0 0 0 402.3 151.6Z" fill="#cb92ea"/><path d="M397.5 146.1L403 151.6L397.5 157.1L392 151.6Z" fill="#c27ee6"/><path d="M393.6 151.2H401.4L397.5 147.2Z" fill="#fff"/><path d="M405 133.8A4.8 4.8 0 0 0 414.6 133.8Z" fill="#cb92ea"/><path d="M409.8 128.3L415.3 133.8L409.8 139.3L404.3 133.8Z" fill="#c27ee6"/><path d="M405.9 133.4H413.7L409.8 129.5Z" fill="#fff"/><path d="M414.6 121.6A4.8 4.8 0 0 0 424.2 121.6Z" fill="#cb92ea"/><path d="M419.4 116.1L424.9 121.6L419.4 127.1L413.9 121.6Z" fill="#c27ee6"/><path d="M415.5 121.2H423.2L419.4 117.2Z" fill="#fff"/><path d="M421.8 118.2A4.8 4.8 0 0 0 431.4 118.2Z" fill="#cb92ea"/><path d="M426.6 112.7L432.1 118.2L426.6 123.7L421.1 118.2Z" fill="#c27ee6"/><path d="M422.8 117.8H430.5L426.6 113.9Z" fill="#fff"/><path d="M434.2 107.1A4.8 4.8 0 0 0 443.8 107.1Z" fill="#cb92ea"/><path d="M439 101.6L444.5 107.1L439 112.6L433.5 107.1Z" fill="#c27ee6"/><path d="M435.1 106.7H442.9L439 102.8Z" fill="#fff"/><path d="M448.7 91.8A4.8 4.8 0 0 0 458.3 91.8Z" fill="#cb92ea"/><path d="M453.5 86.3L459 91.8L453.5 97.3L448 91.8Z" fill="#c27ee6"/><path d="M449.6 91.4H457.4L453.5 87.5Z" fill="#fff"/><path d="M460.1 80.4A4.8 4.8 0 0 0 469.7 80.4Z" fill="#cb92ea"/><path d="M464.9 74.9L470.4 80.4L464.9 85.9L459.4 80.4Z" fill="#c27ee6"/><path d="M461 80H468.8L464.9 76.1Z" fill="#fff"/><path d="M472.4 67.7A4.8 4.8 0 0 0 482 67.7Z" fill="#cb92ea"/><path d="M477.2 62.2L482.7 67.7L477.2 73.2L471.7 67.7Z" fill="#c27ee6"/><path d="M473.3 67.3H481.1L477.2 63.4Z" fill="#fff"/></g>
<rect x="57.4" y="12.3" width="3.3" height="487" fill="#000"/><rect x="57.4" y="495.8" width="472.6" height="3.5" fill="#000"/><rect x="57.4" y="495.8" width="9.2" height="3.6" fill="#000"/><rect x="57.2" y="490.3" width="3.6" height="9" fill="#000"/><rect x="57.4" y="415.2" width="9.2" height="3.6" fill="#000"/><rect x="135.4" y="490.3" width="3.6" height="9" fill="#000"/><rect x="57.4" y="334.6" width="9.2" height="3.6" fill="#000"/><rect x="213.5" y="490.3" width="3.6" height="9" fill="#000"/><rect x="57.4" y="254.1" width="9.2" height="3.6" fill="#000"/><rect x="291.7" y="490.3" width="3.6" height="9" fill="#000"/><rect x="57.4" y="173.5" width="9.2" height="3.6" fill="#000"/><rect x="369.9" y="490.3" width="3.6" height="9" fill="#000"/><rect x="57.4" y="92.9" width="9.2" height="3.6" fill="#000"/><rect x="448.1" y="490.3" width="3.6" height="9" fill="#000"/><rect x="57.4" y="12.3" width="9.2" height="3.6" fill="#000"/><rect x="526.2" y="490.3" width="3.6" height="9" fill="#000"/><rect x="57.4" y="455.7" width="5.4" height="3.2" fill="#000"/><rect x="96.5" y="493.8" width="3.2" height="5" fill="#000"/><rect x="57.4" y="375.1" width="5.4" height="3.2" fill="#000"/><rect x="174.7" y="493.8" width="3.2" height="5" fill="#000"/><rect x="57.4" y="294.6" width="5.4" height="3.2" fill="#000"/><rect x="252.8" y="493.8" width="3.2" height="5" fill="#000"/><rect x="57.4" y="214" width="5.4" height="3.2" fill="#000"/><rect x="331" y="493.8" width="3.2" height="5" fill="#000"/><rect x="57.4" y="133.4" width="5.4" height="3.2" fill="#000"/><rect x="409.2" y="493.8" width="3.2" height="5" fill="#000"/><rect x="57.4" y="52.8" width="5.4" height="3.2" fill="#000"/><rect x="487.3" y="493.8" width="3.2" height="5" fill="#000"/>
<line x1="59.7" y1="496.2" x2="529.7" y2="13.3" stroke="#f8000a" stroke-width="3.3" stroke-linecap="butt"/>
<text class="yt" x="50.6" y="501.5" text-anchor="end">3.6</text><text class="xt" x="59" y="516.8" text-anchor="middle">3.6</text><text class="yt" x="50.6" y="420.9" text-anchor="end">3.7</text><text class="xt" x="137.2" y="516.8" text-anchor="middle">3.7</text><text class="yt" x="50.6" y="340.3" text-anchor="end">3.8</text><text class="xt" x="215.3" y="516.8" text-anchor="middle">3.8</text><text class="yt" x="50.6" y="259.8" text-anchor="end">3.9</text><text class="xt" x="293.5" y="516.8" text-anchor="middle">3.9</text><text class="yt" x="50.6" y="179.2" text-anchor="end">4.0</text><text class="xt" x="371.7" y="516.8" text-anchor="middle">4.0</text><text class="yt" x="50.6" y="98.6" text-anchor="end">4.1</text><text class="xt" x="449.9" y="516.8" text-anchor="middle">4.1</text><text class="yt" x="50.6" y="18" text-anchor="end">4.2</text><text class="xt" x="528" y="516.8" text-anchor="middle">4.2</text>
<text class="tt" x="244" y="37.2" textLength="51" lengthAdjust="spacingAndGlyphs">WLF</text>
<text class="lo" x="70.5" y="444.7" textLength="38" lengthAdjust="spacingAndGlyphs">LOE</text>
<text class="al" x="151.4" y="536.3" textLength="284.2" lengthAdjust="spacingAndGlyphs">Measured dynamic modulus</text>
<text class="al" transform="translate(20.4 396.8) rotate(-90)" textLength="278.3" lengthAdjust="spacingAndGlyphs">Predicted dynamic modulus</text>
<rect x="358.8" y="306.4" width="7.2" height="7.2" fill="#fff" stroke="#737373" stroke-width="1"/><rect x="358.3" y="305.9" width="8.2" height="4.1" fill="#737373"/><text class="lg" x="394.1" y="317.6" textLength="34.4" lengthAdjust="spacingAndGlyphs">SLS</text><circle cx="362.4" cy="338.4" r="5.5" fill="#fff" stroke="#f5333a" stroke-width="1"/><path d="M356.4 338.4A6 6 0 0 1 368.4 338.4Z" fill="#f5333a"/><text class="lg" x="394.1" y="345.9" textLength="38.3" lengthAdjust="spacingAndGlyphs">GLS</text><path d="M362.4 361.2L367.4 370.3H357.4Z" fill="#fff" stroke="#1763e6" stroke-width="1.1"/><path d="M362.4 360.4L366.3 367.3H358.5Z" fill="#1763e6"/><text class="lg" x="394.1" y="374" textLength="46.8" lengthAdjust="spacingAndGlyphs">CAM</text><rect x="358.7" y="391.3" width="7.4" height="7.4" fill="#fff" stroke="#1fad62" stroke-width="1"/><rect x="358.2" y="390.8" width="8.4" height="4.2" fill="#1fad62"/><text class="lg" x="394.1" y="402.3" textLength="134.9" lengthAdjust="spacingAndGlyphs">Modified CAM</text><path d="M362.4 417.8L367.6 423L362.4 428.2L357.2 423Z" fill="#fff" stroke="#c27ee6" stroke-width="1.4"/><path d="M356.3 423H368.5L362.4 429.1Z" fill="#c27ee6"/><text class="lg" x="394.1" y="430.7" textLength="43.2" lengthAdjust="spacingAndGlyphs">SCM</text>
</svg>
</body></html>
